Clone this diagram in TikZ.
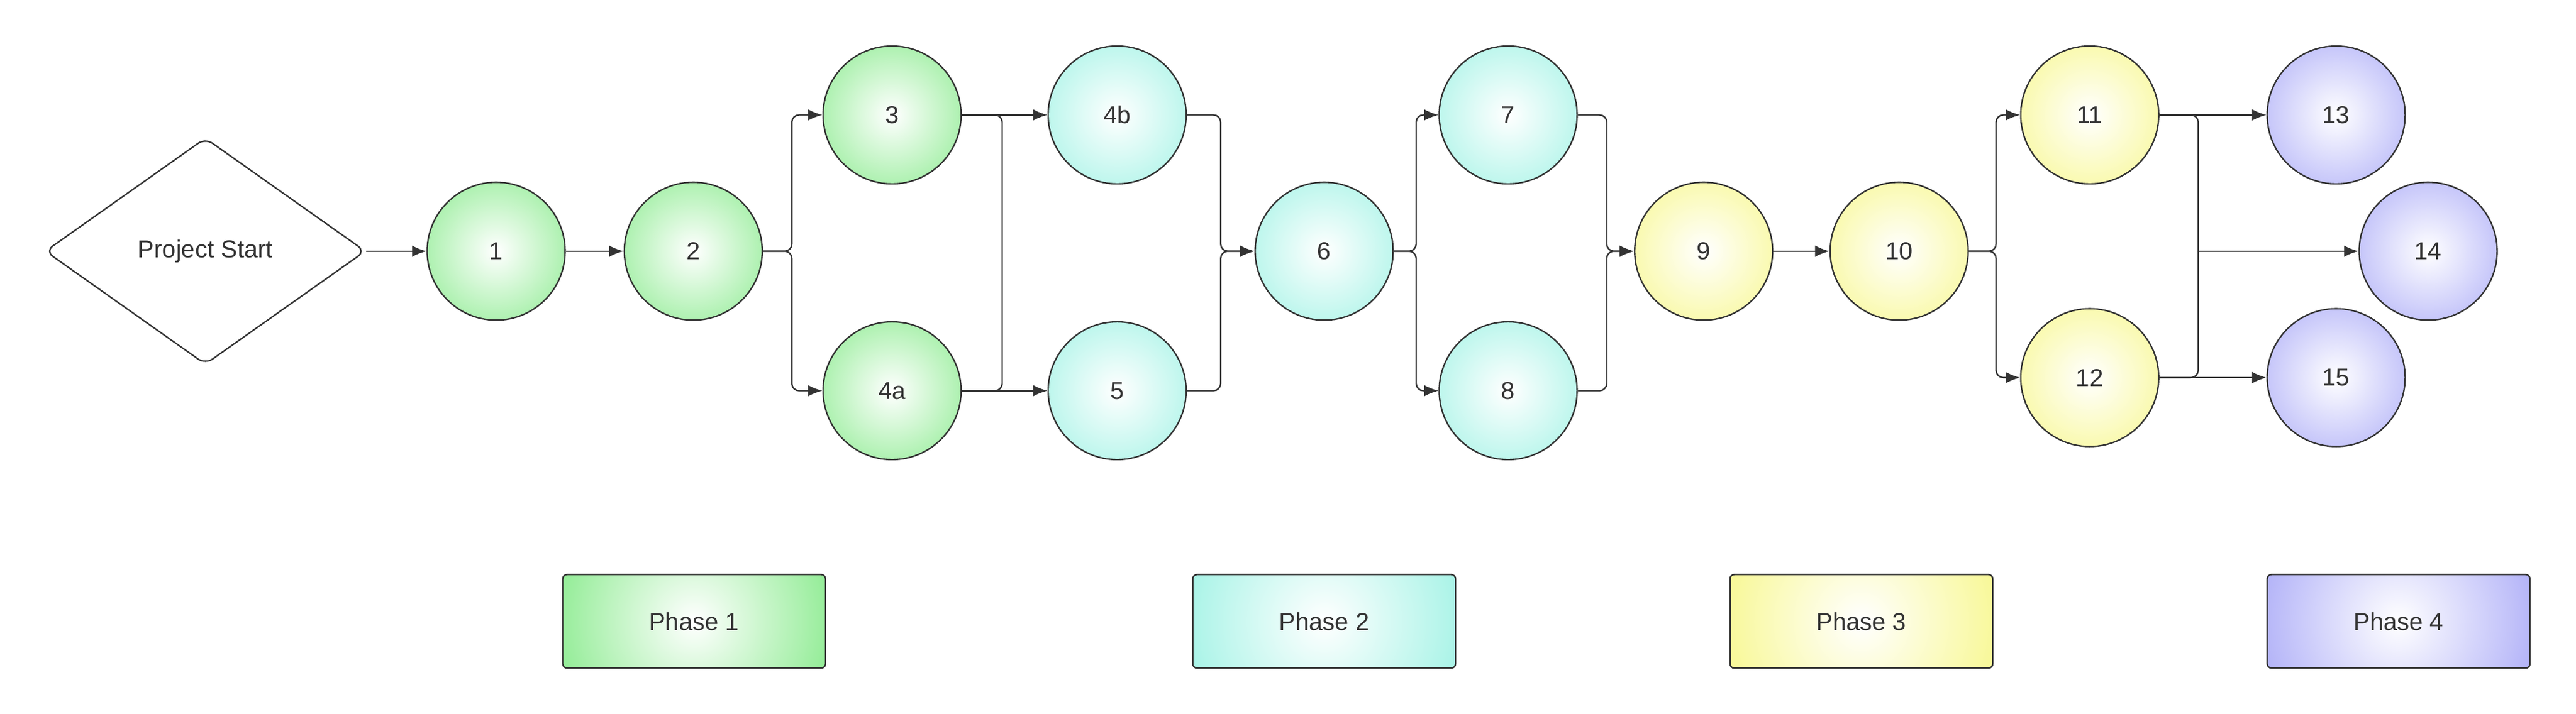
\documentclass[tikz,border=0pt]{standalone}
\usepackage{fontspec}
\setmainfont{Liberation Sans}
\usetikzlibrary{shapes.geometric,arrows.meta}
\definecolor{cg}{HTML}{86EA8A}
\definecolor{ct}{HTML}{9EF2E4}
\definecolor{cy}{HTML}{F7F78A}
\definecolor{cp}{HTML}{AAAAF7}
\definecolor{ln}{HTML}{333333}
\begin{document}
\begin{tikzpicture}[x=0.02cm,y=-0.02cm,
  every node/.style={font=\fontsize{8.5}{10}\selectfont, text=ln},
  nd/.style={circle,draw=ln,line width=0.5pt,minimum size=1.68cm,inner sep=0pt,fill=#1,
    path picture={\shade[inner color=white,outer color=#1] (path picture bounding box.center) circle (1.25cm);}},
  lg/.style={rectangle,rounded corners=1.5pt,draw=ln,line width=0.5pt,minimum width=3.2cm,minimum height=1.14cm,fill=#1,
    path picture={\shade[inner color=white,outer color=#1] (path picture bounding box.center) circle (1.9cm);}},
  conn/.style={draw=ln,line width=0.5pt,rounded corners=2.5pt,-{Latex[length=5pt,width=4pt]}},
  plain/.style={draw=ln,line width=0.5pt,rounded corners=2.5pt}]
\useasboundingbox (0,0) rectangle (1568,434.6);
\node[diamond,draw=ln,line width=0.5pt,aspect=1.41,minimum width=3.9cm,minimum height=2.76cm,inner sep=0pt,rounded corners=3pt] (ps) at (125,153) {Project Start};
\node[nd=cg] (n1) at (302,153) {1};
\node[nd=cg] (n2) at (422,153) {2};
\node[nd=cg] (n3) at (543,70) {3};
\node[nd=cg] (n4a) at (543,238) {4a};
\node[nd=ct] (n4b) at (680,70) {4b};
\node[nd=ct] (n5) at (680,238) {5};
\node[nd=ct] (n6) at (806,153) {6};
\node[nd=ct] (n7) at (918,70) {7};
\node[nd=ct] (n8) at (918,238) {8};
\node[nd=cy] (n9) at (1037,153) {9};
\node[nd=cy] (n10) at (1156,153) {10};
\node[nd=cy] (n11) at (1272,70) {11};
\node[nd=cy] (n12) at (1272,230) {12};
\node[nd=cp] (n13) at (1422,70) {13};
\node[nd=cp] (n14) at (1478,153) {14};
\node[nd=cp] (n15) at (1422,230) {15};
\node[lg=cg] (l1) at (422.5,378.5) {Phase 1};
\node[lg=ct] (l2) at (806,378.5) {Phase 2};
\node[lg=cy] (l3) at (1133,378.5) {Phase 3};
\node[lg=cp] (l4) at (1460,378.5) {Phase 4};
\coordinate (j1) at (482,153);
\coordinate (j2a) at (610,70);
\coordinate (j2b) at (610,238);
\coordinate (j3) at (743,153);
\coordinate (j4) at (862,153);
\coordinate (j5) at (978,153);
\coordinate (j6) at (1215,153);
\coordinate (j7a) at (1338,70);
\coordinate (j7b) at (1338,230);
\coordinate (j7c) at (1338,153);
\draw[conn] (ps.east) -- (n1);
\draw[conn] (n1) -- (n2);
\draw[conn] (n2.east) -- (j1) |- (n3.west);
\draw[conn] (n2.east) -- (j1) |- (n4a.west);
\draw[conn] (n3.east) -- (n4b.west);
\draw[conn] (n4a.east) -- (n5.west);
\draw[plain] (n3.east) -| (j2b) -- (n4a.east);
\draw[conn] (n4b.east) -| (j3) -- (n6.west);
\draw[conn] (n5.east) -| (j3) -- (n6.west);
\draw[conn] (n6.east) -- (j4) |- (n7.west);
\draw[conn] (n6.east) -- (j4) |- (n8.west);
\draw[conn] (n7.east) -| (j5) -- (n9.west);
\draw[conn] (n8.east) -| (j5) -- (n9.west);
\draw[conn] (n9) -- (n10);
\draw[conn] (n10.east) -- (j6) |- (n11.west);
\draw[conn] (n10.east) -- (j6) |- (n12.west);
\draw[conn] (n11.east) -- (n13.west);
\draw[conn] (n12.east) -- (n15.west);
\draw[plain] (n11.east) -| (j7b) -- (n12.east);
\draw[conn] (j7c) -- (n14.west);
\end{tikzpicture}
\end{document}
